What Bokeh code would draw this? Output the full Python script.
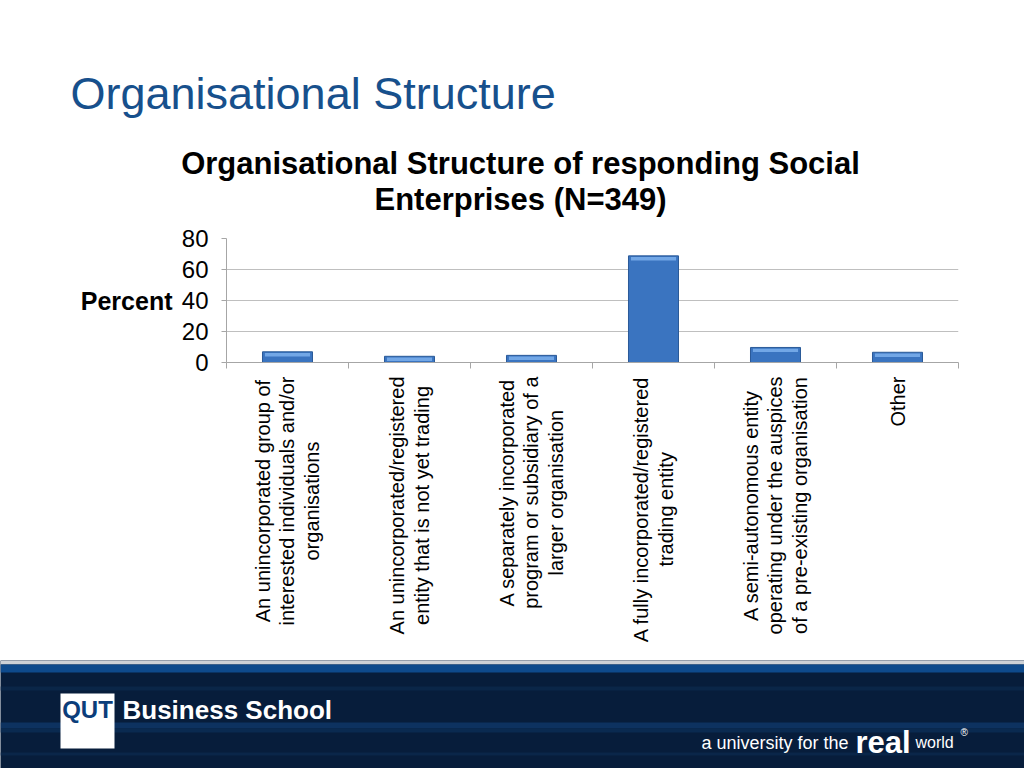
import math
from bokeh.plotting import figure
from bokeh.models import Range1d, FixedTicker, Label, ColumnDataSource
from bokeh.core.properties import value
from bokeh.layouts import column, row
from bokeh.embed import file_html
from bokeh.resources import INLINE
import numpy as np

# ---------------- data ----------------
categories = [
    "An unincorporated group of\ninterested individuals and/or\norganisations",
    "An unincorporated/registered\nentity that is not yet trading",
    "A separately incorporated\nprogram or subsidiary of a\nlarger organisation",
    "A fully incorporated/registered\ntrading entity",
    "A semi-autonomous entity\noperating under the auspices\nof a pre-existing organisation",
    "Other",
]
percent = [6.9, 4.0, 4.6, 68.8, 9.7, 6.6]
y_ticks = [0, 20, 40, 60, 80]

slide_title = "Organisational Structure"
chart_title_1 = "Organisational Structure of responding Social"
chart_title_2 = "Enterprises (N=349)"
y_label = "Percent"

FONT = "Liberation Sans"
W = 1024

n = len(categories)
centers = [i + 0.5 for i in range(n)]
bounds = list(range(n + 1))
x_range = Range1d(0, n)


def bare(fig):
    fig.outline_line_color = None
    fig.xgrid.grid_line_color = None
    fig.ygrid.grid_line_color = None
    fig.background_fill_color = "white"
    fig.border_fill_color = "white"
    try:
        fig.frame_align = False
    except Exception:
        pass
    return fig


def panel(width, height, **kw):
    return bare(figure(width=width, height=height, x_range=kw.pop("x_range", Range1d(0, width)),
                       y_range=Range1d(0, height), output_backend="svg",
                       toolbar_location=None, x_axis_location=None,
                       y_axis_location=None, **kw))


# ---------------- header (slide title + chart title) ----------------
HH = 224
head = panel(W, HH, min_border=0)
head.add_layout(Label(x=70, y=HH - 93, text=slide_title, text_font=FONT,
                      text_font_size="45px", text_color="#17508C",
                      text_align="left", text_baseline="middle"))
head.add_layout(Label(x=520, y=HH - 163, text=chart_title_1, text_font=FONT,
                      text_font_size="31px", text_font_style="bold", text_color="black",
                      text_align="center", text_baseline="middle"))
head.add_layout(Label(x=520, y=HH - 199, text=chart_title_2, text_font=FONT,
                      text_font_size="31px", text_font_style="bold", text_color="black",
                      text_align="center", text_baseline="middle"))

# ---------------- y label panel ----------------
PW, PH = 178, 152
pl = panel(PW, PH, min_border=0)
pl.add_layout(Label(x=172, y=PH - (300 - HH), text=y_label, text_font=FONT,
                    text_font_size="25px", text_font_style="bold", text_color="black",
                    text_align="right", text_baseline="middle"))

# ---------------- main chart ----------------
p = figure(width=W - PW, height=PH, x_range=x_range, y_range=Range1d(0, 80),
           output_backend="svg", toolbar_location=None, title=None,
           min_border_left=48, min_border_right=66, min_border_top=14, min_border_bottom=14)
p.outline_line_color = None
p.background_fill_color = "white"
p.border_fill_color = "white"
try:
    p.frame_align = False
except Exception:
    pass

p.xgrid.grid_line_color = None
p.ygrid.grid_line_color = "#BFBFBF"
p.ygrid.ticker = FixedTicker(ticks=y_ticks)

ya = p.yaxis[0]
ya.ticker = FixedTicker(ticks=y_ticks)
ya.axis_line_color = "#A6A6A6"
ya.major_tick_line_color = "#A6A6A6"
ya.major_tick_in = 0
ya.major_tick_out = 5
ya.minor_tick_line_color = None
ya.major_label_text_font = FONT
ya.major_label_text_font_size = "24px"
ya.major_label_text_color = "black"
ya.major_label_standoff = 13

xa = p.xaxis[0]
xa.ticker = FixedTicker(ticks=bounds, minor_ticks=[])
xa.major_label_overrides = {b: "" for b in bounds}
xa.major_label_text_font_size = "1px"
xa.major_label_standoff = 0
xa.axis_line_color = "#A6A6A6"
xa.major_tick_line_color = "#A6A6A6"
xa.major_tick_in = 0
xa.major_tick_out = 6
xa.minor_tick_line_color = None

src = ColumnDataSource(dict(x=centers, val=percent,
                            hi_top=np.array(percent) - 0.8,
                            hi_bot=np.array(percent) - 3.0))
p.vbar(x="x", top="val", bottom=0, width=0.41, source=src,
       fill_color="#3A74C0", line_color="#2A5A98", line_width=1)
p.vbar(x="x", top="hi_top", bottom="hi_bot", width=0.37, source=src,
       fill_color="#7DB0EC", line_color=None, fill_alpha=0.85)

# ---------------- category labels panel ----------------
LH = 768 - 108 - HH - PH
lab = panel(W, LH, x_range=x_range, min_border_left=226, min_border_right=66,
            min_border_top=0, min_border_bottom=0)
lsrc = ColumnDataSource(dict(x=centers, y=[LH] * n, text=categories))
lab.text(x="x", y="y", text="text", source=lsrc, angle=math.pi / 2,
         anchor=value("center_right"), text_align="center",
         text_font=value(FONT), text_font_size="20px", text_color="black",
         text_line_height=1.1)

# ---------------- footer band ----------------
FH = 108


def fy(page_y):
    return 768 - page_y


f = panel(W, FH, min_border=0)
f.background_fill_color = "#071D3B"
f.quad(left=[0] * 6, right=[W] * 6,
       bottom=[104, 96, 78, 40, 36, 13], top=[108, 104, 82, 46, 40, 16],
       fill_color=["#CDD1D6", "#0E4A8C", "#0A2648", "#0D3260", "#0A2A50", "#0A2649"],
       line_color=None)
f.quad(left=[60], right=[114], bottom=[fy(748)], top=[fy(693)], fill_color="white",
       line_color=None)
f.add_layout(Label(x=87, y=fy(709), text="QUT", text_font=FONT, text_font_size="24px",
                   text_font_style="bold", text_color="#0B3D7A",
                   text_align="center", text_baseline="middle"))
f.add_layout(Label(x=122, y=fy(709), text="Business School", text_font=FONT,
                   text_font_size="26px", text_font_style="bold", text_color="white",
                   text_align="left", text_baseline="middle"))
f.add_layout(Label(x=848, y=fy(742), text="a university for the", text_font=FONT,
                   text_font_size="18px", text_color="white",
                   text_align="right", text_baseline="alphabetic"))
f.add_layout(Label(x=855, y=fy(742), text="real", text_font=FONT,
                   text_font_size="31px", text_font_style="bold", text_color="white",
                   text_align="left", text_baseline="alphabetic"))
f.add_layout(Label(x=915, y=fy(742), text="world", text_font=FONT,
                   text_font_size="16px", text_color="white",
                   text_align="left", text_baseline="alphabetic"))
f.add_layout(Label(x=960, y=fy(732), text="®", text_font=FONT,
                   text_font_size="10px", text_color="white",
                   text_align="left", text_baseline="middle"))

layout = column(head, row(pl, p, spacing=0), lab, f, spacing=0)
open("out.html", "w").write(file_html(layout, INLINE))
